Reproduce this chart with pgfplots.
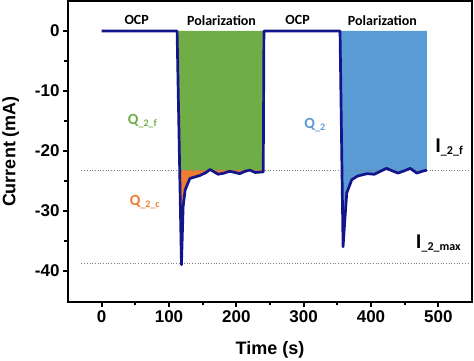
\documentclass[border=0pt]{standalone}
\usepackage{fontspec}
\setmainfont{Liberation Sans}
\newfontfamily\carl{Carlito}
\usepackage{pgfplots}
\pgfplotsset{compat=1.18}
\definecolor{navy}{RGB}{20,20,140}
\definecolor{qgreen}{RGB}{112,173,71}
\definecolor{qblue}{RGB}{91,155,213}
\definecolor{qorange}{RGB}{237,125,49}
\begin{document}
\begin{tikzpicture}
\useasboundingbox (-68pt,-59pt) rectangle (406pt,302pt);
\begin{axis}[
  scale only axis, width=404pt, height=301pt,
  xmin=-50, xmax=550, ymin=-45.2, ymax=5,
  axis line style={line width=2.2pt, black},
  tick pos=left, tick align=outside,
  xtick={0,100,...,500}, minor x tick num=1,
  ytick={-40,-30,...,0}, minor y tick num=1,
  major tick length=5pt, minor tick length=3.5pt,
  tick style={line width=1.8pt, black},
  /pgf/number format/assume math mode=true,
  ticklabel style={font=\bfseries\fontsize{17}{17}\selectfont},
  xlabel={Time (s)}, ylabel={Current (mA)},
  label style={font=\bfseries\fontsize{18}{18}\selectfont},
  xlabel style={at={(axis description cs:0.5,-0.159)}, anchor=center},
  ylabel style={at={(axis description cs:-0.1415,0.5)}, anchor=center},
  clip=false,
]
% fills
\addplot[fill=qgreen, draw=none] coordinates {(112,0)(240,0)(240,-23.2)(117,-23.2)} -- cycle;
\addplot[fill=qorange, draw=none] coordinates {(118,-23.2)(118.5,-39)(121,-29.3)(124,-26.5)(131,-24.6)(146,-24.1)(155,-23.6)(161,-23.2)(167,-23.5)(173,-23.9)(182,-23.7)(190,-23.4)(198,-23.6)(205,-23.8)(213,-23.4)(220,-23.2)(228,-23.6)(240,-23.5)(240,-23.2)} -- cycle;
\addplot[fill=qblue, draw=none] coordinates {(354,0)(358.5,-36)(361.5,-31)(364,-27)(371.5,-24.8)(380,-24.2)(394,-23.8)(405,-23.9)(414,-23.4)(423,-22.9)(431,-23.3)(440,-23.7)(450,-23.3)(458,-22.9)(468,-23.7)(476,-23.4)(483,-23.2)(483,0)} -- cycle;
% reference lines
\addplot[gray, dotted, line width=0.7pt] coordinates {(-30,-23.2)(547,-23.2)};
\addplot[gray, dotted, line width=0.7pt] coordinates {(-30,-38.8)(547,-38.8)};
% current
\addplot[navy, line width=2.7pt, line join=round] coordinates {
(0,0)(112,0)(118.5,-39)(121,-29.3)(124,-26.5)(131,-24.6)(146,-24.1)(155,-23.6)(161,-23.1)(167,-23.5)(173,-23.9)(182,-23.7)(190,-23.4)(198,-23.6)(205,-23.8)(213,-23.4)(220,-23.2)(228,-23.6)(240,-23.5)
(241,0)(354,0)(358.5,-36)(361.5,-31)(364,-27)(371.5,-24.8)(380,-24.2)(394,-23.8)(405,-23.9)(414,-23.4)(423,-22.9)(431,-23.3)(440,-23.7)(450,-23.3)(458,-22.9)(468,-23.7)(476,-23.4)(483,-23.2)};
% annotations
\node[font=\carl\bfseries\fontsize{14}{14}\selectfont] at (axis cs:52,1.8) {OCP};
\node[font=\carl\bfseries\fontsize{14}{14}\selectfont] at (axis cs:178,1.8) {Polarization};
\node[font=\carl\bfseries\fontsize{14}{14}\selectfont] at (axis cs:291,1.8) {OCP};
\node[font=\carl\bfseries\fontsize{14}{14}\selectfont] at (axis cs:417,1.8) {Polarization};
\node[text=qgreen, font=\carl\bfseries\fontsize{15.5}{15.5}\selectfont] at (axis cs:60.5,-15.1) {Q\raisebox{-0.25ex}{\fontsize{10}{10}\selectfont\_2\_f}};
\node[text=qblue, font=\carl\bfseries\fontsize{15.5}{15.5}\selectfont] at (axis cs:316.5,-15.7) {Q\raisebox{-0.25ex}{\fontsize{10}{10}\selectfont\_2}};
\node[text=qorange, font=\carl\bfseries\fontsize{15.5}{15.5}\selectfont] at (axis cs:64,-28.5) {Q\raisebox{-0.25ex}{\fontsize{10}{10}\selectfont\_2\_c}};
\node[font=\carl\bfseries\fontsize{21}{21}\selectfont] at (axis cs:516,-19.5) {I\raisebox{-0.2ex}{\fontsize{12}{12}\selectfont\_2\_f}};
\node[font=\carl\bfseries\fontsize{21}{21}\selectfont] at (axis cs:500,-35.5) {I\raisebox{-0.2ex}{\fontsize{12}{12}\selectfont\_2\_max}};
\end{axis}
\end{tikzpicture}
\end{document}
